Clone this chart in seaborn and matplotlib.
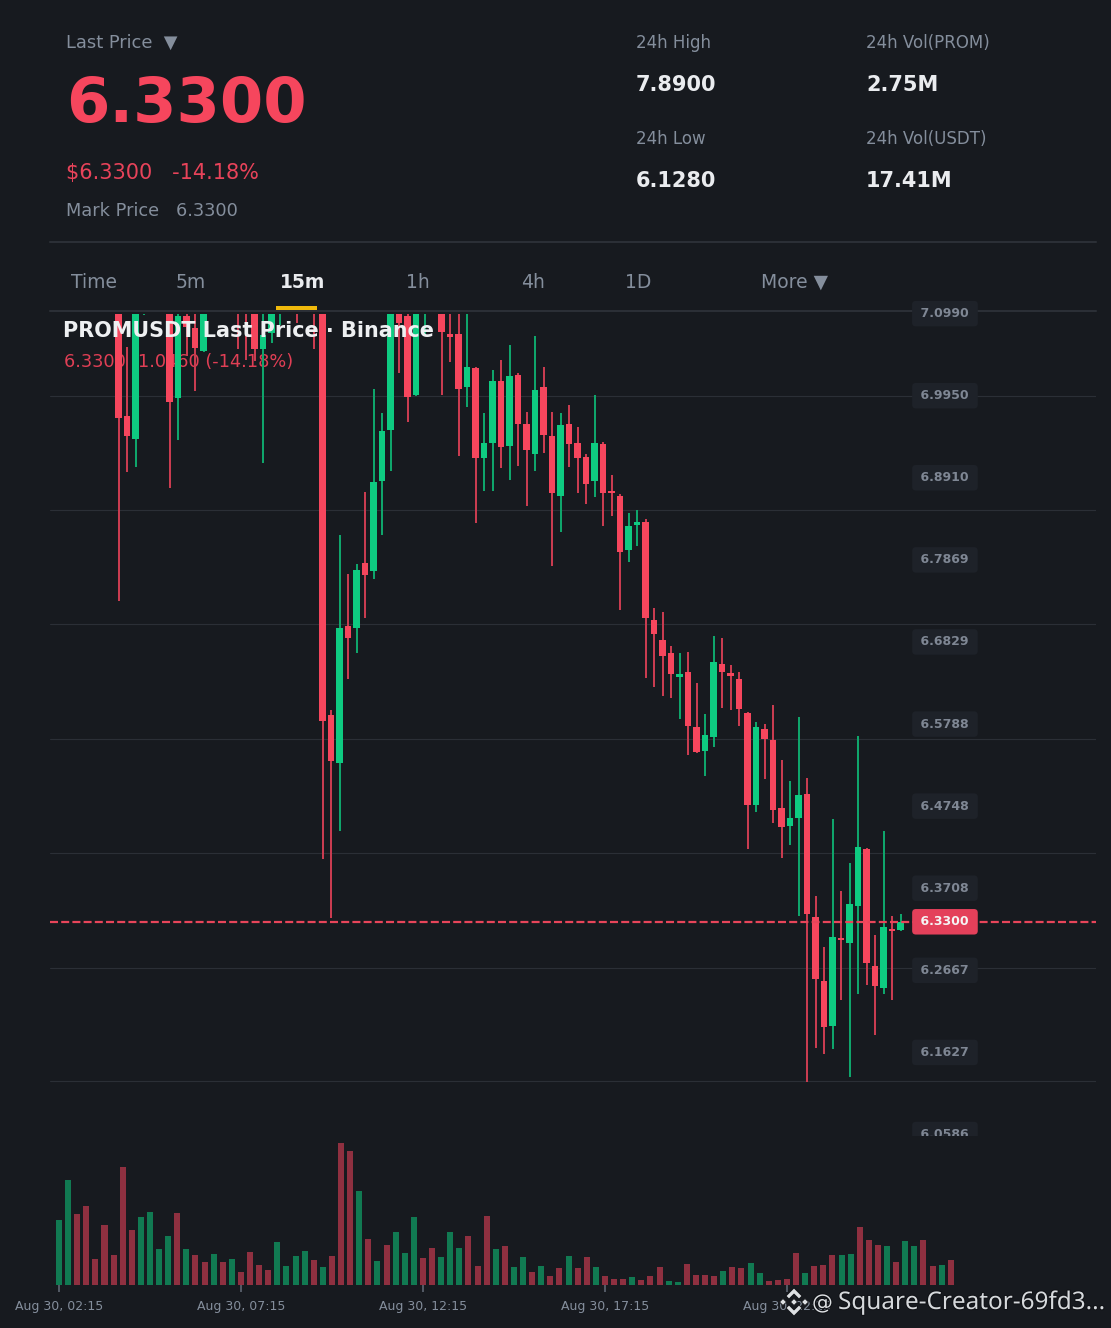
import numpy as np
import pandas as pd
import seaborn as sns
import matplotlib
matplotlib.use("Agg")
import matplotlib.pyplot as plt
from matplotlib.lines import Line2D
from matplotlib.patches import Polygon, Rectangle
from matplotlib.transforms import ScaledTranslation
import matplotlib.patheffects as pe

# candles, 15m, oldest first (bodies above 7.10 are cut off in the picture, those are guesses)
candle_open = [
    7.118, 6.971, 6.942, 7.118, 7.118, 7.124, 7.118, 6.994, 7.098, 7.082,
    7.054, 7.115, 7.133, 7.131, 7.121, 7.118, 7.118, 7.056, 7.076, 7.108,
    7.123, 7.115, 7.113, 7.115, 7.112, 6.592, 6.531, 6.705, 6.702, 6.785,
    6.775, 6.889, 6.953, 7.108, 7.098, 6.998, 7.107, 7.118, 7.110, 7.075,
    7.075, 7.008, 7.032, 6.918, 6.937, 7.015, 6.933, 7.023, 6.961, 6.923,
    7.008, 6.946, 6.870, 6.961, 6.937, 6.919, 6.889, 6.936, 6.876, 6.870,
    6.801, 6.833, 6.837, 6.712, 6.687, 6.671, 6.640, 6.647, 6.577, 6.546,
    6.564, 6.657, 6.645, 6.638, 6.595, 6.478, 6.574, 6.560, 6.474, 6.451,
    6.461, 6.492, 6.336, 6.255, 6.198, 6.309, 6.303, 6.350, 6.422, 6.274,
    6.246, 6.321, 6.320,
]
candle_close = [
    6.968, 6.946, 7.112, 7.124, 7.131, 7.112, 6.989, 7.098, 7.084, 7.057,
    7.112, 7.131, 7.121, 7.118, 7.108, 7.110, 7.056, 7.074, 7.112, 7.121,
    7.113, 7.108, 7.121, 7.105, 6.584, 6.534, 6.702, 6.690, 6.776, 6.770,
    6.887, 6.952, 7.105, 7.089, 6.995, 7.112, 7.114, 7.110, 7.077, 7.071,
    7.005, 7.033, 6.918, 6.937, 7.015, 6.932, 7.022, 6.961, 6.928, 7.004,
    6.947, 6.873, 6.960, 6.936, 6.918, 6.885, 6.937, 6.873, 6.873, 6.799,
    6.832, 6.837, 6.715, 6.695, 6.667, 6.644, 6.644, 6.578, 6.545, 6.567,
    6.659, 6.647, 6.641, 6.600, 6.478, 6.577, 6.562, 6.472, 6.450, 6.461,
    6.491, 6.340, 6.257, 6.197, 6.311, 6.307, 6.352, 6.425, 6.278, 6.249,
    6.323, 6.318, 6.330,
]
candle_high = [
    7.131, 7.058, 7.118, 7.131, 7.143, 7.137, 7.131, 7.118, 7.112, 7.112,
    7.118, 7.137, 7.143, 7.138, 7.131, 7.128, 7.131, 7.112, 7.121, 7.131,
    7.131, 7.124, 7.128, 7.123, 7.123, 6.598, 6.820, 6.771, 6.784, 6.875,
    7.005, 6.975, 7.112, 7.112, 7.100, 7.118, 7.121, 7.126, 7.118, 7.112,
    7.112, 7.105, 7.033, 6.975, 7.029, 7.042, 7.061, 7.026, 6.976, 7.072,
    7.033, 6.976, 6.975, 6.985, 6.957, 6.923, 6.998, 6.938, 6.896, 6.872,
    6.848, 6.852, 6.840, 6.728, 6.723, 6.680, 6.671, 6.672, 6.633, 6.593,
    6.692, 6.690, 6.655, 6.647, 6.596, 6.583, 6.581, 6.605, 6.535, 6.508,
    6.590, 6.512, 6.363, 6.298, 6.460, 6.369, 6.404, 6.565, 6.424, 6.313,
    6.445, 6.337, 6.340,
]
candle_low = [
    6.737, 6.900, 6.907, 7.099, 7.105, 7.103, 6.880, 6.940, 7.047, 7.003,
    7.052, 7.108, 7.110, 7.105, 7.056, 7.042, 7.041, 6.911, 7.064, 7.086,
    7.105, 7.089, 7.104, 7.056, 6.410, 6.335, 6.445, 6.638, 6.671, 6.715,
    6.765, 6.820, 6.901, 7.026, 6.963, 6.996, 7.072, 7.103, 6.998, 7.039,
    6.920, 6.982, 6.835, 6.876, 6.876, 6.905, 6.890, 6.908, 6.857, 6.901,
    6.924, 6.781, 6.824, 6.906, 6.873, 6.860, 6.868, 6.832, 6.844, 6.725,
    6.786, 6.806, 6.639, 6.628, 6.616, 6.614, 6.587, 6.541, 6.544, 6.515,
    6.551, 6.601, 6.598, 6.578, 6.422, 6.469, 6.511, 6.455, 6.411, 6.427,
    6.337, 6.127, 6.170, 6.162, 6.169, 6.231, 6.133, 6.238, 6.250, 6.186,
    6.238, 6.231, 6.318,
]

# volume pane (no scale shown, so relative units)
volume = [
    195, 315, 213, 237, 78, 180, 90, 354, 165, 204,
    219, 108, 147, 216, 108, 90, 69, 93, 69, 78,
    39, 99, 60, 45, 129, 57, 87, 102, 75, 54,
    87, 426, 402, 282, 138, 72, 120, 159, 96, 204,
    81, 111, 84, 159, 111, 147, 57, 207, 108, 117,
    54, 84, 39, 57, 27, 51, 87, 51, 84, 54,
    27, 18, 18, 24, 15, 27, 54, 12, 9, 63,
    30, 30, 27, 42, 54, 51, 66, 36, 12, 15,
    18, 96, 36, 57, 60, 90, 90, 93, 174, 135,
    120, 117, 69, 132, 117, 135, 57, 60, 75,
]
volume_side = list(
    "GGRRRRRRRG" "GGGRGRRGRG" "RRRRGGGGRG" "RRRGRGRGGG" "RRGGGRRRGR"
    "GGRGRRGRRG" "RRRGRRRGGR" "RRRGRRGGRR" "RRGRRRGGRR" "RGRGGRRGR"
)

price_labels = [7.0990, 6.9950, 6.8910, 6.7869, 6.6829, 6.5788, 6.4748, 6.3708, 6.2667, 6.1627, 6.0586]
grid_prices = [6.996, 6.852, 6.707, 6.562, 6.417, 6.272, 6.128]
last_price = 6.3300
time_ticks = [0, 20, 40, 60, 80]
time_labels = ["Aug 30, 02:15", "Aug 30, 07:15", "Aug 30, 12:15", "Aug 30, 17:15", "Aug 30, 22:15"]
tabs = ["Time", "5m", "15m", "1h", "4h", "1D", "More ▼"]

BG = "#171A1F"
RED = "#F6465D"
GREEN = "#0ECB81"
RED_WICK = "#C93C50"
GREEN_WICK = "#0FA56B"
GREY = "#848E9C"
LINE = "#2B2F36"

W, H = 1111, 1328

sns.set_theme(style="dark", rc={
    "figure.facecolor": BG,
    "axes.facecolor": BG,
    "savefig.facecolor": BG,
    "grid.color": LINE,
    "grid.linewidth": 0.8,
})
plt.rcParams["font.family"] = ["DejaVu Sans"]

fig = plt.figure(figsize=(W / 100, H / 100), dpi=100)


def px_axes(left, top, right, bottom, **kw):
    return fig.add_axes([left / W, 1 - bottom / H, (right - left) / W, (bottom - top) / H], **kw)


# rule above the chart sits under the first price tag
for y in (242, 311):
    fig.add_artist(Line2D([50 / W, 1096 / W], [1 - y / H, 1 - y / H], color=LINE, linewidth=1.5, zorder=1))

# price pane
ax = px_axes(50, 314, 1096, 1136)
ax.set_zorder(2)
k = np.arange(len(candle_open))
o = np.array(candle_open)
c = np.array(candle_close)
up = c >= o
ax.vlines(k, candle_low, candle_high, colors=np.where(up, GREEN_WICK, RED_WICK), linewidth=1.44, zorder=3, snap=True)
ax.bar(k, np.abs(c - o), bottom=np.minimum(o, c), width=0.71, color=np.where(up, GREEN, RED), linewidth=0, zorder=4)
ax.set_xlim(-8.06, 115.0)
ax.set_ylim(6.0585, 7.1003)
ax.set_yticks(grid_prices)
ax.set_xticks([])
ax.tick_params(left=False, labelleft=False)
ax.grid(True, axis="y")
ax.set_axisbelow(True)
sns.despine(ax=ax, left=True, bottom=True)

ax.axhline(last_price, color="#E8455A", linewidth=1.6, linestyle=(0, (3.6, 1.44)), zorder=5)
ax.text(-6.47, 7.040, "6.3300 -1.0460 (-14.18%)", color="#E03F55", fontsize=12.8, va="center", zorder=2)

ytrans = ax.get_yaxis_transform()
tag_trans = ytrans + ScaledTranslation(0, 1 / 72, fig.dpi_scale_trans)
for p in price_labels:
    ax.text(0.8556, p, f"\u2009{p:.4f}\u2009", transform=tag_trans, ha="center", va="center", color="#7F8794",
            fontsize=9, fontweight="bold", zorder=6, clip_on=p < 6.1,
            bbox=dict(boxstyle="round,pad=0.5,rounding_size=0.3", fc="#1E2229", ec="none"))
ax.text(0.8556, last_price, f"\u2009{last_price:.4f}\u2009", transform=ytrans, ha="center", va="center", color="#F5F5F5",
        fontsize=9, fontweight="bold", zorder=7, clip_on=False,
        bbox=dict(boxstyle="round,pad=0.5,rounding_size=0.3", fc="#E4405A", ec="none"))

# volume pane
ax_vol = px_axes(50, 1140, 1096, 1285)
vol_df = pd.DataFrame({"bar": np.arange(len(volume)), "volume": volume, "side": volume_side})
sns.barplot(data=vol_df, x="bar", y="volume", hue="side", palette={"G": "#117A52", "R": "#8F3040"},
            native_scale=True, dodge=False, width=0.66, saturation=1, legend=False, linewidth=0, ax=ax_vol)
ax_vol.set_xlim(-0.989, 113.96)
ax_vol.set_ylim(0, 435)
ax_vol.set_xlabel("")
ax_vol.set_ylabel("")
ax_vol.set_yticks([])
ax_vol.set_xticks(time_ticks)
ax_vol.set_xticklabels(time_labels)
ax_vol.tick_params(axis="x", bottom=True, length=5, width=1.2, color="#5E6673", labelsize=9, labelcolor=GREY, pad=6)
sns.despine(ax=ax_vol, left=True, bottom=True)

# everything around the panes, in pixel coordinates
top = fig.add_axes([0, 0, 1, 1], facecolor="none")
top.set_zorder(5)
top.set_xlim(0, W)
top.set_ylim(H, 0)
top.axis("off")


def label(x, y, s, color=GREY, size=13, **kw):
    top.text(x, y, s, color=color, fontsize=size, va="center", **kw)


label(66, 43, "Last Price  ▼", size=12.9)
label(66, 105, "6.3300", RED, 44.8, fontweight="bold")
label(66, 173, "$6.3300   -14.18%", "#E8435A", 15)
label(66, 211, "Mark Price   6.3300", size=12.8)

for x, name, val, y in [(636, "24h High", "7.8900", 43), (636, "24h Low", "6.1280", 139),
                        (866, "24h Vol(PROM)", "2.75M", 43), (866, "24h Vol(USDT)", "17.41M", 139)]:
    label(x, y, name, size=12)
    label(x, y + 42, val, "#EAECEF", 15, fontweight="bold")

top.add_patch(Rectangle((276, 306), 41, 4, color="#F0B90B", linewidth=0))

for x, t in zip([71, 176, 280, 406, 521, 625, 761], tabs):
    if t == "15m":
        label(x, 282, t, "#EAECEF", 13.5, fontweight="bold")
    else:
        label(x, 282, t, size=13.5)

label(63, 331, "PROMUSDT Last Price · Binance", "#EEF0F2", 14.96, fontweight="bold")

# watermark with the logo on top of the last date
shadow = [pe.withStroke(linewidth=1.5, foreground="#101216")]
cx, cy = 794, 1302
logo = [
    [(0, -14), (8, -6), (5, -3), (0, -8), (-5, -3), (-8, -6)],
    [(0, 14), (8, 6), (5, 3), (0, 8), (-5, 3), (-8, 6)],
    [(0, -3.5), (3.5, 0), (0, 3.5), (-3.5, 0)],
    [(-11, -3.5), (-7.5, 0), (-11, 3.5), (-14.5, 0)],
    [(11, -3.5), (14.5, 0), (11, 3.5), (7.5, 0)],
]
for shape in logo:
    top.add_patch(Polygon([(cx + a, cy + b) for a, b in shape], closed=True, fc="#DDE0E3", ec="#101216", lw=0.6))
top.text(812, 1303, "@", color="#DDE0E3", fontsize=15, va="center", path_effects=shadow)
top.text(838, 1303, "Square-Creator-69fd3...", color="#D6D9DC", fontsize=17.5, va="center",
         family="Noto Sans", path_effects=shadow)

fig.savefig("out.png", dpi=100)
